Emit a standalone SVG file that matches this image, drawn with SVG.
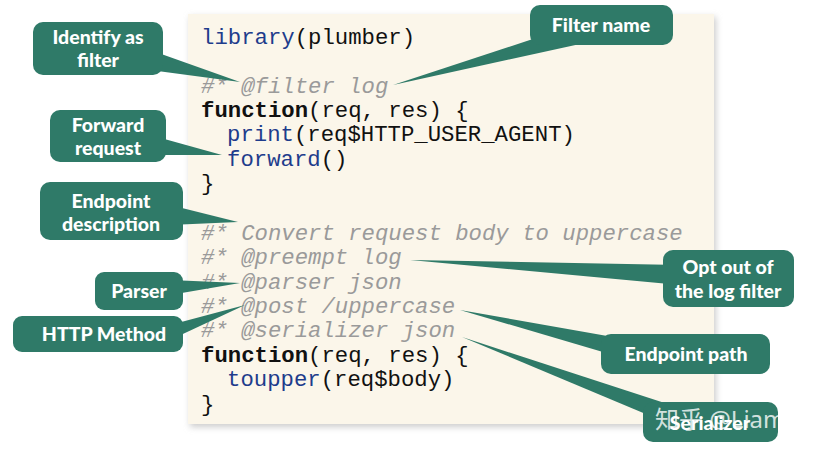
<svg xmlns="http://www.w3.org/2000/svg" width="816" height="452" viewBox="0 0 816 452">
<defs>
<filter id="sh" x="-5%" y="-5%" width="110%" height="110%"><feGaussianBlur stdDeviation="3"/></filter>
<style>
.c{font-family:"Liberation Mono",monospace;font-size:22.3px;fill:#111}
.b{fill:#1e3c8c}.k{font-weight:bold}.g{fill:#9a9a9a;font-style:italic}
.box{fill:#2f7a68}
.t{font-family:Lato,"Open Sans",sans-serif;font-weight:900;font-size:19.5px;fill:#fff;text-anchor:middle}
</style>
</defs>
<rect width="816" height="452" fill="#fff"/>
<rect x="190" y="17" width="526" height="410" fill="#ccc" filter="url(#sh)"/>
<rect x="188" y="14" width="526" height="410" fill="#fbf6ea"/>
<g id="code" class="c">
<text x="201" y="44"><tspan class="b">library</tspan>(plumber)</text>
<text x="201" y="93" class="g">#* @filter log</text>
<text x="201" y="117"><tspan class="k">function</tspan>(req, res) {</text>
<text x="227" y="141"><tspan class="b">print</tspan>(req$HTTP_USER_AGENT)</text>
<text x="227" y="166"><tspan class="b">forward</tspan>()</text>
<text x="201" y="190">}</text>
<text x="201" y="240" class="g">#* Convert request body to uppercase</text>
<text x="201" y="264" class="g">#* @preempt log</text>
<text x="201" y="289" class="g">#* @parser json</text>
<text x="201" y="313" class="g">#* @post /uppercase</text>
<text x="201" y="337" class="g">#* @serializer json</text>
<text x="201" y="362"><tspan class="k">function</tspan>(req, res) {</text>
<text x="227" y="386"><tspan class="b">toupper</tspan>(req$body)</text>
<text x="201" y="411">}</text>
</g>
<g id="connectors" class="box">
<polygon points="150,50 150,70 240,82"/>
<polygon points="560,30 580,44 393,85"/>
<polygon points="150,135 150,155 222,155"/>
<polygon points="170,205 170,225 238,222"/>
<polygon points="680,265 680,285 410,260"/>
<polygon points="170,280 170,295 240,283"/>
<polygon points="170,325 170,340 245,305"/>
<polygon points="630,340 630,360 460,310"/>
<polygon points="680,408 660,420 462,337"/>
</g>
<g id="n1"><rect class="box" x="33" y="22" width="130" height="53" rx="10"/><text class="t" x="98" y="44">Identify as</text><text class="t" x="98" y="67">filter</text></g>
<g id="n2"><rect class="box" x="530" y="5" width="143" height="40" rx="10"/><text class="t" x="601" y="32">Filter name</text></g>
<g id="n3"><rect class="box" x="50" y="110" width="116" height="52" rx="10"/><text class="t" x="108" y="132">Forward</text><text class="t" x="108" y="155">request</text></g>
<g id="n4"><rect class="box" x="40" y="182" width="143" height="58" rx="10"/><text class="t" x="111" y="208">Endpoint</text><text class="t" x="111" y="231">description</text></g>
<g id="n5"><rect class="box" x="663" y="250" width="131" height="57" rx="10"/><text class="t" x="728" y="274">Opt out of</text><text class="t" x="728" y="298">the log filter</text></g>
<g id="n6"><rect class="box" x="95" y="272" width="88" height="38" rx="9"/><text class="t" x="139" y="298">Parser</text></g>
<g id="n7"><rect class="box" x="13" y="316" width="170" height="36" rx="9"/><text class="t" x="104" y="341">HTTP Method</text></g>
<g id="n8"><rect class="box" x="601" y="334" width="169" height="40" rx="10"/><text class="t" x="686" y="361">Endpoint path</text></g>
<g id="n9"><rect class="box" x="643" y="402" width="135" height="40" rx="10"/><text class="t" x="710" y="430">Serializer</text></g>
<text x="655" y="428" font-family="'Noto Sans','Noto Sans CJK SC',sans-serif" font-size="24" fill="#fff" fill-opacity="0.8">知乎 @Liam</text>
</svg>
